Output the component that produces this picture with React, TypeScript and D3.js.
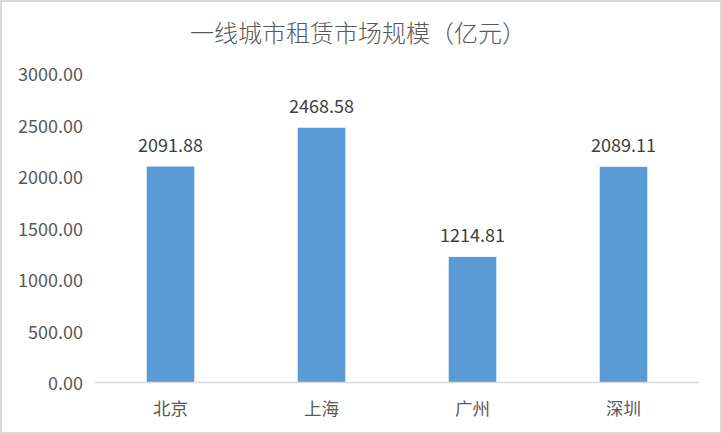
import React from "react";
import * as d3 from "d3";

const categories = ["北京", "上海", "广州", "深圳"];
const values = [2091.88, 2468.58, 1214.81, 2089.11];
const yTicks = [0, 500, 1000, 1500, 2000, 2500, 3000];
const title = "一线城市租赁市场规模（亿元）";

export default function App() {
  const W = 722, H = 434;
  const left = 95, right = 699, top = 73, bottom = 382;
  const x = d3.scaleBand<string>().domain(categories).range([left, right]).paddingInner(0.685).paddingOuter(0.3425);
  const y = d3.scaleLinear().domain([0, 3000]).range([bottom, top]);
  const font = "'Noto Sans CJK SC', 'Noto Sans', sans-serif";
  return (
    <svg width={W} height={H} style={{ position: "absolute", left: 0, top: 0 }} fontFamily={font}>
      <rect x={1} y={1} width={W - 2} height={H - 2} fill="#fff" stroke="#d9d9d9" strokeWidth={2} />
      <text x={358} y={31} textAnchor="middle" dominantBaseline="central" fontSize={24} fontWeight={300} fill="#595959">{title}</text>
      {yTicks.map((t) => (
        <text key={t} x={83} y={y(t)} textAnchor="end" dominantBaseline="central" fontSize={18} fill="#595959">
          {d3.format(".2f")(t)}
        </text>
      ))}
      {categories.map((c, i) => (
        <g key={c}>
          <rect x={x(c)} y={y(values[i])} width={x.bandwidth()} height={bottom - y(values[i])} fill="#5b9bd5" />
          <text x={(x(c) as number) + x.bandwidth() / 2} y={y(values[i]) - 23} textAnchor="middle" dominantBaseline="central" fontSize={18} fill="#404040">
            {d3.format(".2f")(values[i])}
          </text>
          <text x={(x(c) as number) + x.bandwidth() / 2} y={407} textAnchor="middle" dominantBaseline="central" fontSize={17.5} fill="#595959">
            {c}
          </text>
        </g>
      ))}
      <line x1={left} x2={right} y1={bottom + 0.5} y2={bottom + 0.5} stroke="#d9d9d9" strokeWidth={1.5} />
    </svg>
  );
}
